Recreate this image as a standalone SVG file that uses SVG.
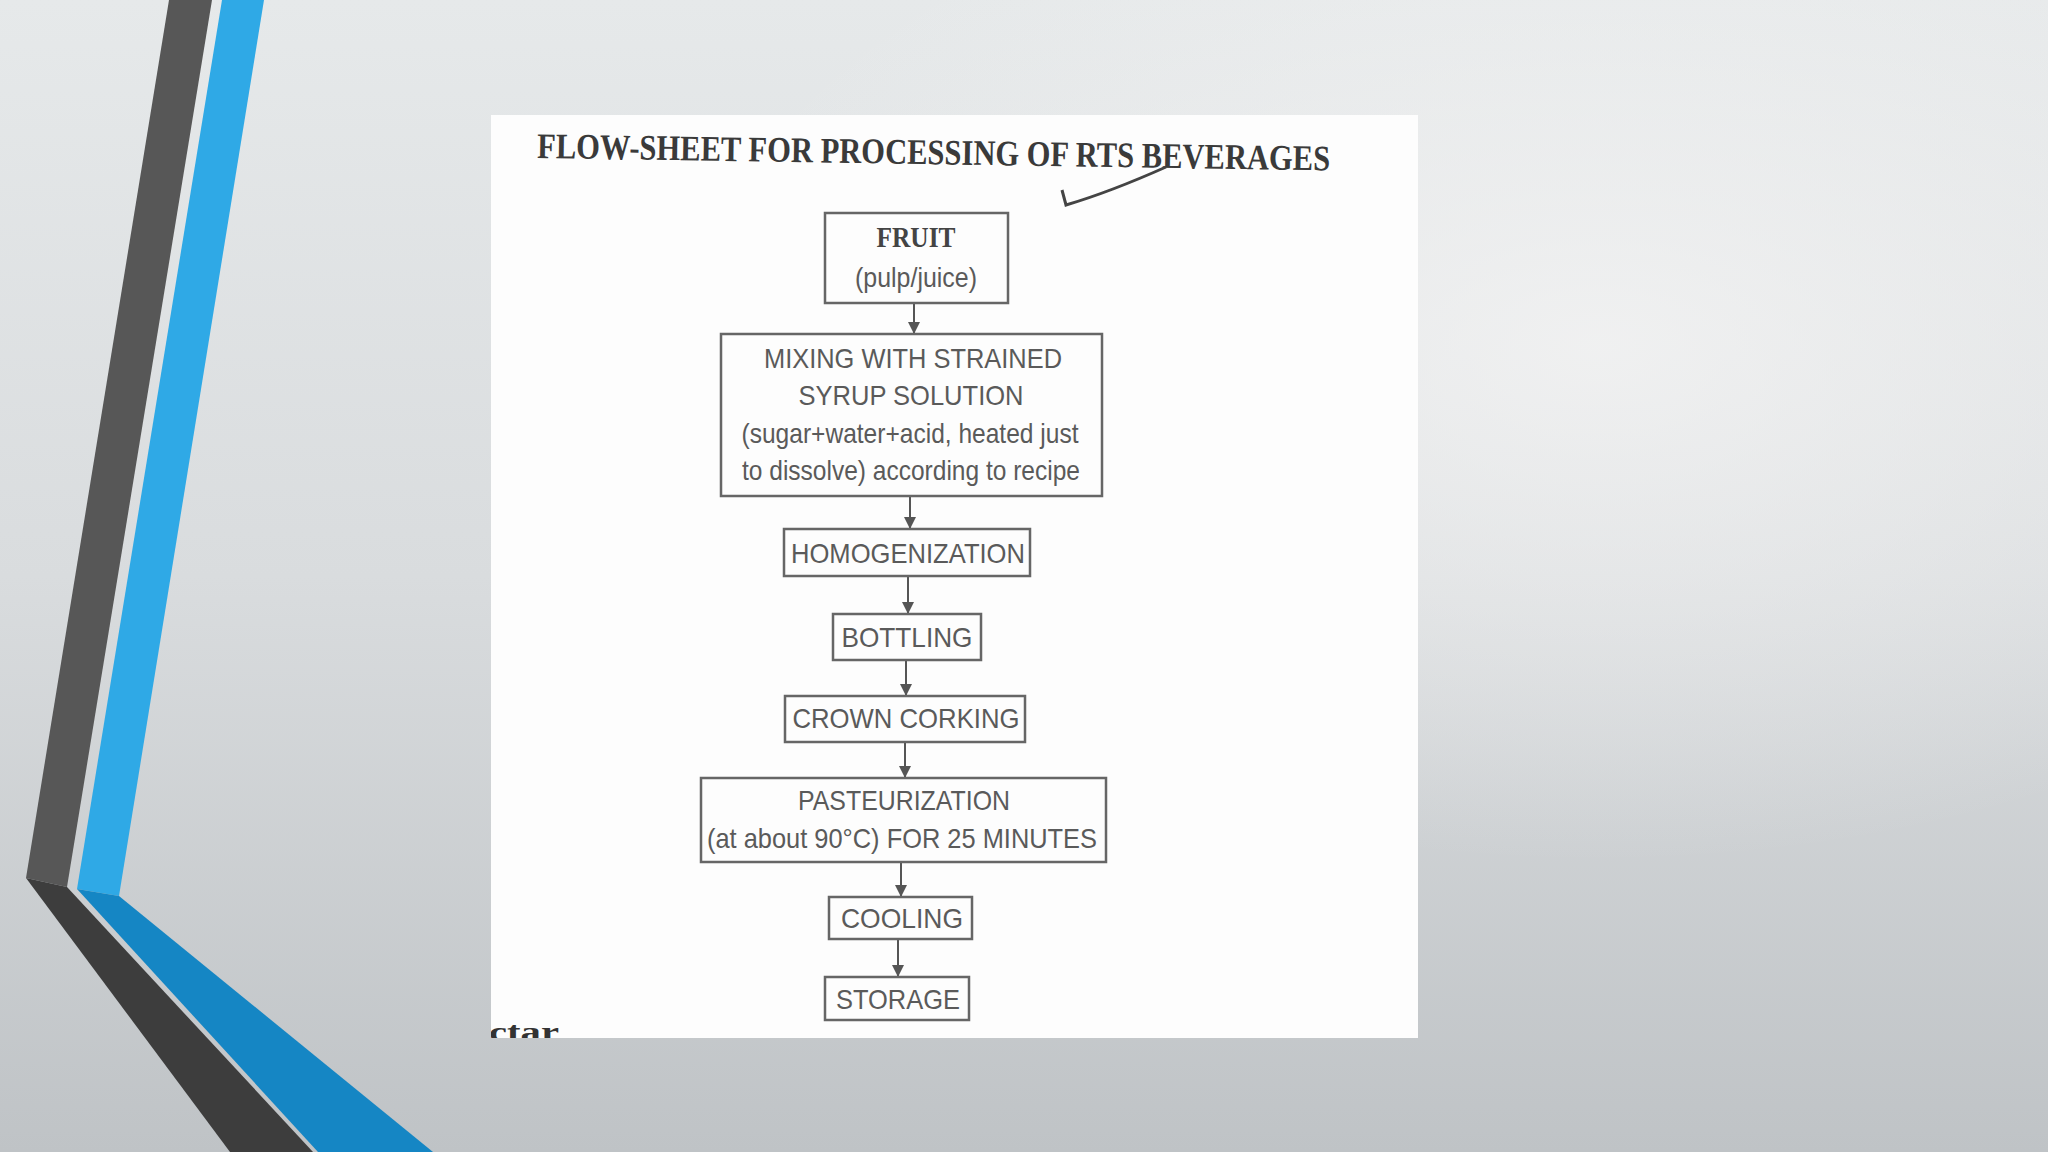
<svg xmlns="http://www.w3.org/2000/svg" width="2048" height="1152" viewBox="0 0 2048 1152">
<defs>
<linearGradient id="bg" x1="0" y1="0" x2="0" y2="1">
<stop offset="0" stop-color="#e6e9ea"/>
<stop offset="0.5" stop-color="#d9dcde"/>
<stop offset="1" stop-color="#bfc3c6"/>
</linearGradient>
<radialGradient id="glow" cx="0.78" cy="0.3" r="0.45">
<stop offset="0" stop-color="#f4f4f4" stop-opacity="0.8"/>
<stop offset="1" stop-color="#f4f4f4" stop-opacity="0"/>
</radialGradient>
<marker id="ah" viewBox="0 0 10 10" refX="10" refY="5" markerWidth="12" markerHeight="12" markerUnits="userSpaceOnUse" orient="auto">
<path d="M0,0 L10,5 L0,10 Z" fill="#555"/>
</marker>
<clipPath id="panelclip"><rect x="491" y="115" width="927" height="923"/></clipPath>
</defs>
<style>
.box{fill:none;stroke:#666;stroke-width:2.5}
.t{font-family:"Liberation Sans",Arial,sans-serif;font-size:28px;fill:#5a5a5a;text-anchor:middle}
.tb{font-family:"Liberation Serif","Times New Roman",serif;font-weight:bold;font-size:30px;fill:#444;text-anchor:middle}
.conn line{stroke:#555;stroke-width:2;marker-end:url(#ah)}
</style>
<rect width="2048" height="1152" fill="url(#bg)"/>
<rect width="2048" height="1152" fill="url(#glow)"/>
<g id="decor">
<polygon points="169,0 212,0 67,887 26,878" fill="#575757"/>
<polygon points="222,0 264,0 119,896 77,889" fill="#2fa9e6"/>
<polygon points="26,878 67,887 313,1152 230,1152" fill="#3d3d3d"/>
<polygon points="77,889 119,896 433,1152 318,1152" fill="#1586c4"/>
</g>
<rect x="491" y="115" width="927" height="923" fill="#fdfdfd"/>
<g id="title">
<text x="537" y="158" font-family="'Liberation Serif','Times New Roman',serif" font-weight="bold" font-size="36" fill="#3a3a3a" textLength="793" lengthAdjust="spacingAndGlyphs" transform="rotate(0.9 537 158)">FLOW-SHEET FOR PROCESSING OF RTS BEVERAGES</text>
<path d="M1062,190 L1066,205 Q1110,192 1166,167" fill="none" stroke="#444" stroke-width="3"/>
</g>
<g class="conn" id="connectors">
<line x1="914" y1="303" x2="914" y2="334"/>
<line x1="910" y1="496" x2="910" y2="529"/>
<line x1="908" y1="576" x2="908" y2="614"/>
<line x1="906" y1="660" x2="906" y2="696"/>
<line x1="905" y1="742" x2="905" y2="778"/>
<line x1="901" y1="862" x2="901" y2="897"/>
<line x1="898" y1="939" x2="898" y2="977"/>
</g>
<g id="fruit">
<rect class="box" x="825" y="213" width="183" height="90"/>
<text class="tb" x="916" y="247" textLength="79" lengthAdjust="spacingAndGlyphs">FRUIT</text>
<text class="t" x="916" y="287" textLength="122" lengthAdjust="spacingAndGlyphs">(pulp/juice)</text>
</g>
<g id="mixing">
<rect class="box" x="721" y="334" width="381" height="162"/>
<text class="t" x="913" y="368" textLength="298" lengthAdjust="spacingAndGlyphs">MIXING WITH STRAINED</text>
<text class="t" x="911" y="405" textLength="225" lengthAdjust="spacingAndGlyphs">SYRUP SOLUTION</text>
<text class="t" x="910" y="443" textLength="337" lengthAdjust="spacingAndGlyphs">(sugar+water+acid, heated just</text>
<text class="t" x="911" y="480" textLength="338" lengthAdjust="spacingAndGlyphs">to dissolve) according to recipe</text>
</g>
<g id="homogenization">
<rect class="box" x="784" y="529" width="246" height="47"/>
<text class="t" x="908" y="563" textLength="234" lengthAdjust="spacingAndGlyphs">HOMOGENIZATION</text>
</g>
<g id="bottling">
<rect class="box" x="833" y="614" width="148" height="46"/>
<text class="t" x="907" y="647" textLength="131" lengthAdjust="spacingAndGlyphs">BOTTLING</text>
</g>
<g id="crown-corking">
<rect class="box" x="785" y="696" width="240" height="46"/>
<text class="t" x="906" y="728" textLength="227" lengthAdjust="spacingAndGlyphs">CROWN CORKING</text>
</g>
<g id="pasteurization">
<rect class="box" x="701" y="778" width="405" height="84"/>
<text class="t" x="904" y="810" textLength="212" lengthAdjust="spacingAndGlyphs">PASTEURIZATION</text>
<text class="t" x="902" y="848" textLength="390" lengthAdjust="spacingAndGlyphs">(at about 90°C) FOR 25 MINUTES</text>
</g>
<g id="cooling">
<rect class="box" x="829" y="897" width="143" height="42"/>
<text class="t" x="902" y="928" textLength="122" lengthAdjust="spacingAndGlyphs">COOLING</text>
</g>
<g id="storage">
<rect class="box" x="825" y="977" width="144" height="43"/>
<text class="t" x="898" y="1009" textLength="124" lengthAdjust="spacingAndGlyphs">STORAGE</text>
</g>
<g clip-path="url(#panelclip)">
<text x="489" y="1041" font-family="'Liberation Serif','Times New Roman',serif" font-weight="bold" font-size="28" fill="#333" textLength="70" lengthAdjust="spacingAndGlyphs">ctar</text>
</g>
</svg>
